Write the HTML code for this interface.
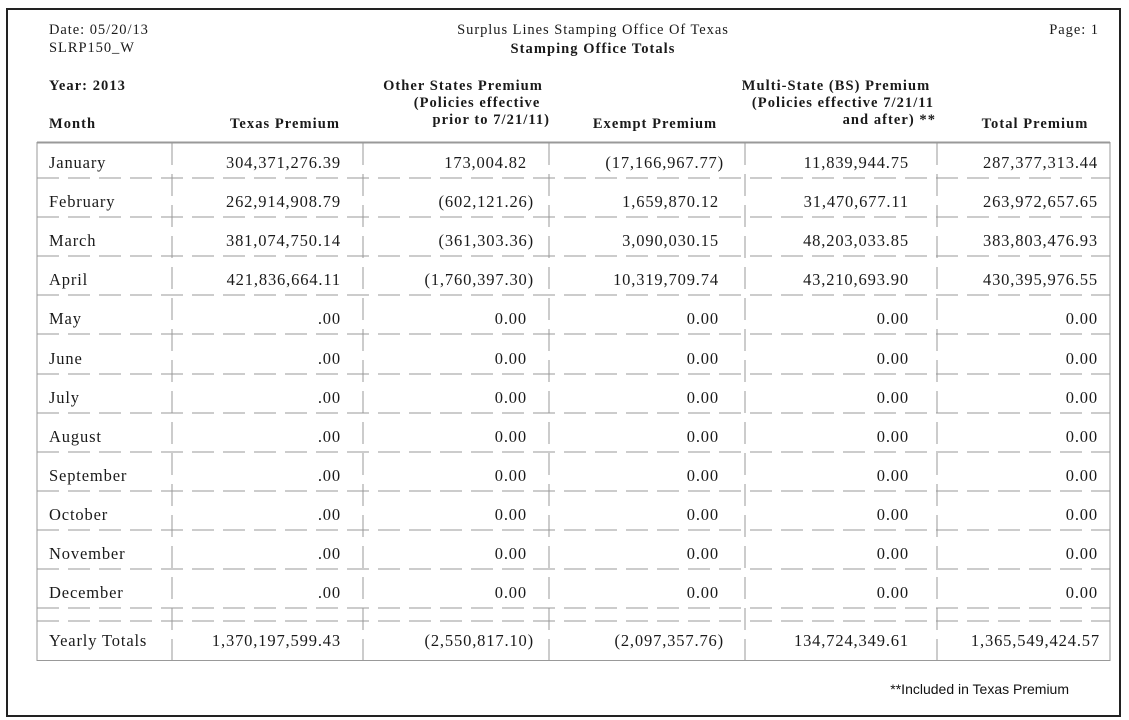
<!DOCTYPE html>
<html><head><meta charset="utf-8"><style>
html,body{margin:0;padding:0;background:#fff;width:1129px;height:720px;overflow:hidden}
svg{display:block}
text{font-family:"Liberation Serif",serif;font-size:16.5px;fill:#1a1a1a;letter-spacing:0.85px}
.b{font-weight:bold;font-size:14.5px;letter-spacing:1.05px}
.h{font-size:14.5px;letter-spacing:0.95px}
</style></head><body>
<svg width="1129" height="720" xmlns="http://www.w3.org/2000/svg">
<rect x="7" y="9" width="1113" height="707" fill="none" stroke="#222" stroke-width="2"/>
<text x="49" y="34" class="h">Date: 05/20/13</text>
<text x="49" y="52" class="h">SLRP150_W</text>
<text x="593" y="34" class="h" text-anchor="middle">Surplus Lines Stamping Office Of Texas</text>
<text x="593" y="53" class="b" text-anchor="middle">Stamping Office Totals</text>
<text x="1099" y="34" class="h" text-anchor="end">Page: 1</text>
<text x="49" y="90" class="b">Year: 2013</text>
<text x="49" y="128" class="b">Month</text>
<text x="285" y="128" class="b" text-anchor="middle">Texas Premium</text>
<text x="463" y="90" class="b" text-anchor="middle">Other States Premium</text>
<text x="477" y="107" class="b" text-anchor="middle">(Policies effective</text>
<text x="550" y="124" class="b" text-anchor="end">prior to 7/21/11)</text>
<text x="655" y="128" class="b" text-anchor="middle">Exempt Premium</text>
<text x="836" y="90" class="b" text-anchor="middle">Multi-State (BS) Premium</text>
<text x="843" y="107" class="b" text-anchor="middle">(Policies effective 7/21/11</text>
<text x="936" y="124" class="b" text-anchor="end">and after) **</text>
<text x="1035" y="128" class="b" text-anchor="middle">Total Premium</text>
<g stroke="#999" fill="none">
<line x1="37" y1="142.5" x2="1110" y2="142.5" stroke-width="2"/>
<line x1="37" y1="142" x2="37" y2="661"/>
<line x1="1110" y1="142" x2="1110" y2="661"/>
<line x1="37" y1="660.5" x2="1110" y2="660.5"/>
<g stroke-dasharray="22,9">
<line x1="172" y1="143" x2="172" y2="665"/>
<line x1="363" y1="143" x2="363" y2="665"/>
<line x1="549" y1="143" x2="549" y2="665"/>
<line x1="745" y1="143" x2="745" y2="665"/>
<line x1="937" y1="143" x2="937" y2="665"/>
</g>
<g stroke-dasharray="22,9">
<line x1="37" y1="178" x2="1110" y2="178"/>
<line x1="37" y1="217" x2="1110" y2="217"/>
<line x1="37" y1="256" x2="1110" y2="256"/>
<line x1="37" y1="295" x2="1110" y2="295"/>
<line x1="37" y1="334" x2="1110" y2="334"/>
<line x1="37" y1="374" x2="1110" y2="374"/>
<line x1="37" y1="413" x2="1110" y2="413"/>
<line x1="37" y1="452" x2="1110" y2="452"/>
<line x1="37" y1="491" x2="1110" y2="491"/>
<line x1="37" y1="530" x2="1110" y2="530"/>
<line x1="37" y1="569" x2="1110" y2="569"/>
<line x1="37" y1="608" x2="1110" y2="608"/>
<line x1="37" y1="621" x2="1110" y2="621"/>
</g>
</g>
<g>
<text x="49" y="168">January</text><text x="341" y="168" text-anchor="end">304,371,276.39</text><text x="527" y="168" text-anchor="end">173,004.82</text><text x="724" y="168" text-anchor="end">(17,166,967.77)</text><text x="909" y="168" text-anchor="end">11,839,944.75</text><text x="1098" y="168" text-anchor="end">287,377,313.44</text>
<text x="49" y="207">February</text><text x="341" y="207" text-anchor="end">262,914,908.79</text><text x="534" y="207" text-anchor="end">(602,121.26)</text><text x="719" y="207" text-anchor="end">1,659,870.12</text><text x="909" y="207" text-anchor="end">31,470,677.11</text><text x="1098" y="207" text-anchor="end">263,972,657.65</text>
<text x="49" y="246">March</text><text x="341" y="246" text-anchor="end">381,074,750.14</text><text x="534" y="246" text-anchor="end">(361,303.36)</text><text x="719" y="246" text-anchor="end">3,090,030.15</text><text x="909" y="246" text-anchor="end">48,203,033.85</text><text x="1098" y="246" text-anchor="end">383,803,476.93</text>
<text x="49" y="285">April</text><text x="341" y="285" text-anchor="end">421,836,664.11</text><text x="534" y="285" text-anchor="end">(1,760,397.30)</text><text x="719" y="285" text-anchor="end">10,319,709.74</text><text x="909" y="285" text-anchor="end">43,210,693.90</text><text x="1098" y="285" text-anchor="end">430,395,976.55</text>
<text x="49" y="324">May</text><text x="341" y="324" text-anchor="end">.00</text><text x="527" y="324" text-anchor="end">0.00</text><text x="719" y="324" text-anchor="end">0.00</text><text x="909" y="324" text-anchor="end">0.00</text><text x="1098" y="324" text-anchor="end">0.00</text>
<text x="49" y="364">June</text><text x="341" y="364" text-anchor="end">.00</text><text x="527" y="364" text-anchor="end">0.00</text><text x="719" y="364" text-anchor="end">0.00</text><text x="909" y="364" text-anchor="end">0.00</text><text x="1098" y="364" text-anchor="end">0.00</text>
<text x="49" y="403">July</text><text x="341" y="403" text-anchor="end">.00</text><text x="527" y="403" text-anchor="end">0.00</text><text x="719" y="403" text-anchor="end">0.00</text><text x="909" y="403" text-anchor="end">0.00</text><text x="1098" y="403" text-anchor="end">0.00</text>
<text x="49" y="442">August</text><text x="341" y="442" text-anchor="end">.00</text><text x="527" y="442" text-anchor="end">0.00</text><text x="719" y="442" text-anchor="end">0.00</text><text x="909" y="442" text-anchor="end">0.00</text><text x="1098" y="442" text-anchor="end">0.00</text>
<text x="49" y="481">September</text><text x="341" y="481" text-anchor="end">.00</text><text x="527" y="481" text-anchor="end">0.00</text><text x="719" y="481" text-anchor="end">0.00</text><text x="909" y="481" text-anchor="end">0.00</text><text x="1098" y="481" text-anchor="end">0.00</text>
<text x="49" y="520">October</text><text x="341" y="520" text-anchor="end">.00</text><text x="527" y="520" text-anchor="end">0.00</text><text x="719" y="520" text-anchor="end">0.00</text><text x="909" y="520" text-anchor="end">0.00</text><text x="1098" y="520" text-anchor="end">0.00</text>
<text x="49" y="559">November</text><text x="341" y="559" text-anchor="end">.00</text><text x="527" y="559" text-anchor="end">0.00</text><text x="719" y="559" text-anchor="end">0.00</text><text x="909" y="559" text-anchor="end">0.00</text><text x="1098" y="559" text-anchor="end">0.00</text>
<text x="49" y="598">December</text><text x="341" y="598" text-anchor="end">.00</text><text x="527" y="598" text-anchor="end">0.00</text><text x="719" y="598" text-anchor="end">0.00</text><text x="909" y="598" text-anchor="end">0.00</text><text x="1098" y="598" text-anchor="end">0.00</text>
<text x="49" y="646">Yearly Totals</text><text x="341" y="646" text-anchor="end">1,370,197,599.43</text><text x="534" y="646" text-anchor="end">(2,550,817.10)</text><text x="724" y="646" text-anchor="end">(2,097,357.76)</text><text x="909" y="646" text-anchor="end">134,724,349.61</text><text x="1100" y="646" text-anchor="end">1,365,549,424.57</text>
</g>
<text x="1069" y="694" text-anchor="end" style="font-family:'Liberation Sans',sans-serif;font-size:14px;letter-spacing:0;fill:#111">**Included in Texas Premium</text>
</svg>
</body></html>
